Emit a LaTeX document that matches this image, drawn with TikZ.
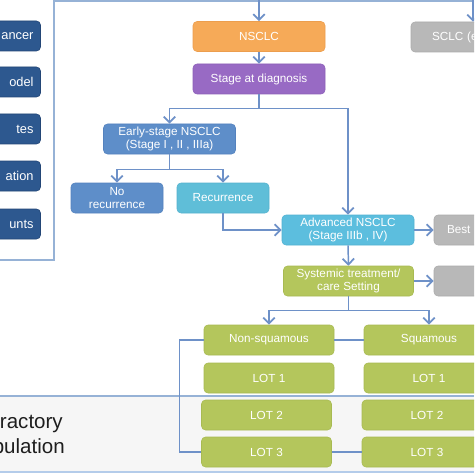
\documentclass[tikz,border=0pt]{standalone}
\usepackage{fontspec}
\setmainfont{Liberation Sans}
\usetikzlibrary{arrows.meta}

\begin{document}
\begin{tikzpicture}[x=0.75pt,y=0.75pt,yscale=-1,xscale=1,
  flow/.style={draw={rgb, 255:red, 110; green, 145; blue, 200 }, line width=1.1pt},
  arr/.style={flow, -{Straight Barb[length=4.4pt,width=8.6pt,line width=1.3pt]}},
  frameline/.style={draw={rgb, 255:red, 150; green, 178; blue, 214 }, line width=1.1pt},
  box/.style={rounded corners=3pt, minimum width=99pt, minimum height=22.5pt, inner sep=1pt,
    align=center, text=white, font=\fontsize{8.8}{9.75}\selectfont, line width=0.4pt},
  smallbox/.style={box, minimum width=69pt},
  greenbox/.style={box, minimum width=97.5pt, fill={rgb, 255:red, 180; green, 198; blue, 92 }, draw={rgb, 255:red, 168; green, 186; blue, 82 }},
  greybox/.style={box, fill={rgb, 255:red, 184; green, 184; blue, 184 }, draw={rgb, 255:red, 172; green, 172; blue, 172 }},
  leftbox/.style={rounded corners=3pt, minimum width=105pt, minimum height=22.5pt, text width=94.5pt,
    inner xsep=5.25pt, align=right, text=white, font=\fontsize{9.6}{10.5}\selectfont,
    fill={rgb, 255:red, 45; green, 88; blue, 143 }, draw={rgb, 255:red, 35; green, 70; blue, 118 }},
  bigtext/.style={inner sep=0pt, text={rgb, 255:red, 30; green, 30; blue, 30 }, font=\fontsize{15.4}{18}\selectfont}
]
\useasboundingbox (0,0) rectangle (474,474);
\clip (0,0) rectangle (474,474);
\fill [white] (0,0) rectangle (474,474);

%Refractory band
\fill [color={rgb, 255:red, 246; green, 246; blue, 246 }] (0,396) rectangle (474,472);
\draw [frameline] (0,396) -- (474,396);
\draw [draw={rgb, 255:red, 180; green, 204; blue, 234 }, line width=1.6pt] (0,472) -- (474,472);

%Frame on the left
\draw [frameline] (474,1) -- (54,1) -- (54,260) -- (0,260);

%Left column
\node [leftbox] (cancer) at (-29.5,36) {ancer};
\node [leftbox] (model) at (-29.5,82) {odel};
\node [leftbox] (rates) at (-29.5,129) {tes};
\node [leftbox] (popn) at (-29.5,176) {ation};
\node [leftbox] (counts) at (-29.5,224) {unts};

% Text Node
\node [bigtext, anchor=base east] (refr) at (63,428) {ractory};
\node [bigtext, anchor=base east] (popl) at (65,453) {pulation};

%Boxes
\node [box, fill={rgb, 255:red, 246; green, 170; blue, 88 }, draw={rgb, 255:red, 236; green, 158; blue, 78 }] (nsclc) at (259,36.5) {NSCLC};
\node [greybox, text width=67.5pt, align=left] (sclc) at (477,37) {SCLC (e};
\node [box, fill={rgb, 255:red, 152; green, 106; blue, 196 }, draw={rgb, 255:red, 140; green, 95; blue, 184 }] (stage) at (259,79) {Stage at diagnosis};
\node [box, fill={rgb, 255:red, 94; green, 142; blue, 201 }, draw={rgb, 255:red, 84; green, 130; blue, 190 }] (early) at (169.5,139) {Early-stage NSCLC\\(Stage I , II , IIIa)};
\node [smallbox, fill={rgb, 255:red, 94; green, 142; blue, 201 }, draw={rgb, 255:red, 84; green, 130; blue, 190 }] (norec) at (117,198) {No\\recurrence};
\node [smallbox, fill={rgb, 255:red, 95; green, 190; blue, 216 }, draw={rgb, 255:red, 85; green, 178; blue, 205 }] (recur) at (223,198) {Recurrence};
\node [box, fill={rgb, 255:red, 92; green, 190; blue, 222 }, draw={rgb, 255:red, 82; green, 178; blue, 210 }] (adv) at (348,230) {Advanced NSCLC\\(Stage IIIb , IV)};
\node [greybox, text width=79.5pt, align=left] (best) at (500,230) {Best};
\node [greenbox] (syst) at (348.5,281) {Systemic treatment/\\care Setting};
\node [greybox] (care) at (500,281) {};
\node [greenbox] (nonsq) at (269,340) {Non-squamous};
\node [greenbox] (squam) at (429,340) {Squamous};
\node [greenbox] (lotOneA) at (269,378) {LOT 1};
\node [greenbox] (lotOneB) at (429,378) {LOT 1};
\node [greenbox] (lotTwoA) at (266.5,415) {LOT 2};
\node [greenbox] (lotTwoB) at (427,415) {LOT 2};
\node [greenbox] (lotThreeA) at (266.5,452) {LOT 3};
\node [greenbox] (lotThreeB) at (427,452) {LOT 3};

%Connectors
\coordinate (topin) at (259,0);
\coordinate (topsclc) at (473,0);
\draw [arr] (topin) -- (nsclc.north);
\draw [arr] (topsclc) -- (topsclc |- sclc.north);
\draw [arr] (nsclc.south) -- (stage.north);
\draw [arr] (stage.south) -- ++(0,14) -| (early.north);
\draw [arr] (stage.south) -- ++(0,14) -| (adv.north);
\draw [arr] (early.south) -- ++(0,15) -| (norec.north);
\draw [arr] (early.south) -- ++(0,15) -| (recur.north);
\draw [arr] (recur.south) |- (adv.west);
\draw [arr] (adv.east) -- (best.west);
\draw [arr] (adv.south) -- (syst.north);
\draw [arr] (syst.east) -- (care.west);
\draw [arr] (syst.south) -- ++(0,14) -| (nonsq.north);
\draw [arr] (syst.south) -- ++(0,14) -| (squam.north);
\draw [flow] (nonsq.east) -- (squam.west);
\draw [flow] (lotThreeA.east) -- (lotThreeB.west);
\draw [flow] (nonsq.west) -- ++(-24,0) |- (lotThreeA.west);

\end{tikzpicture}
\end{document}
